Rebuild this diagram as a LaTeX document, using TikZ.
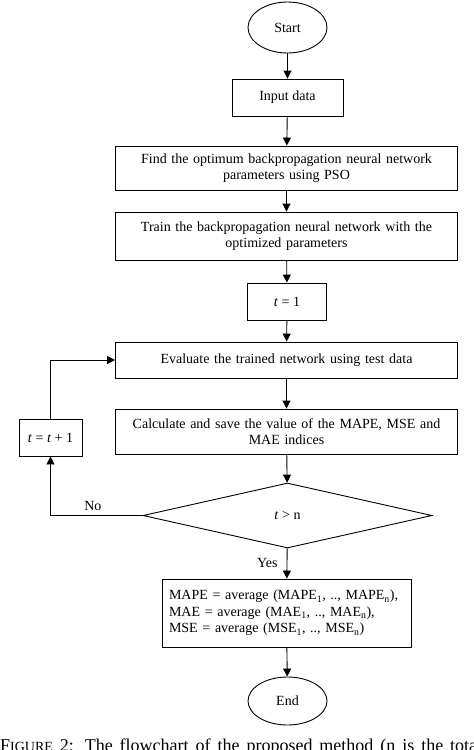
\documentclass[tikz,border=0pt]{standalone}
\usepackage{fontspec}
\setmainfont{Liberation Serif}
\usetikzlibrary{shapes.geometric,arrows.meta}
\begin{document}
\begin{tikzpicture}[x=1pt,y=-1pt,
  every node/.style={font=\fontsize{14}{16.5}\selectfont},
  box/.style={draw, line width=0.9pt, rectangle, inner sep=2pt, align=center},
  term/.style={draw, line width=0.9pt, ellipse, inner sep=0pt, minimum width=79pt},
  dec/.style={draw, line width=0.9pt, diamond, inner sep=0pt, minimum width=289pt, minimum height=65pt, aspect=4.45},
  arr/.style={line width=0.9pt, -{Triangle[length=8pt,width=8pt]}},
  lbl/.style={inner sep=1pt}
]
\useasboundingbox (0,0) rectangle (474,750);
\begin{scope}
\clip (0,0) rectangle (474,750);
\node[term, minimum height=51pt] (start) at (287.5,27.5) {Start};
\node[box, minimum width=111pt, minimum height=37pt] (input) at (287.5,97.5) {Input data};
\node[box, minimum width=342pt, minimum height=44pt, text width=330pt] (find) at (286.5,168) {Find the optimum backpropagation neural network\\parameters using PSO};
\node[box, minimum width=342pt, minimum height=48pt, text width=330pt] (train) at (286.5,236) {Train the backpropagation neural network with the\\optimized parameters};
\node[box, minimum width=79pt, minimum height=37pt] (t1) at (287,301.5) {\textit{t} = 1};
\node[box, minimum width=342pt, minimum height=36pt, text width=330pt] (eval) at (286.5,360) {Evaluate the trained network using test data};
\node[box, minimum width=342pt, minimum height=45pt, text width=330pt] (calc) at (286.5,431.5) {Calculate and save the value of the MAPE, MSE and\\MAE indices};
\node[dec] (cond) at (287.5,515.5) {\textit{t} \textgreater{} n};
\node[box, minimum width=63pt, minimum height=37pt] (inc) at (50.5,437.5) {\textit{t} = \textit{t} + 1};
\node[box, minimum width=249pt, minimum height=68pt, align=left, text width=235pt] (res) at (286.5,613) {MAPE = average (MAPE\textsubscript{1}, .., MAPE\textsubscript{n}),\\MAE = average (MAE\textsubscript{1}, .., MAE\textsubscript{n}),\\MSE = average (MSE\textsubscript{1}, .., MSE\textsubscript{n})};
\node[term, minimum height=48pt] (end) at (287.5,701) {End};

\draw[arr] (start) -- (input);
\draw[arr] (input) -- (find);
\draw[arr] (find) -- (train);
\draw[arr] (train) -- (t1);
\draw[arr] (t1) -- (eval);
\draw[arr] (eval) -- (calc);
\draw[arr] (calc) -- (cond);
\draw[arr] (cond) -- node[lbl, left, pos=0.5, xshift=-8pt] {Yes} (res);
\draw[arr] (res) -- (end);
\draw[arr] (cond.west) -| node[lbl, pos=0.27, above=3pt] {No} (inc.south);
\draw[arr] (inc.north) |- (eval.west);

\node[anchor=base west, inner sep=0pt, font=\fontsize{18}{20}\selectfont] (cap) at (0,751) {\makebox[482pt][s]{F{\fontsize{14}{16}\selectfont IGURE} 2: The flowchart of the proposed method (n is the total}};
\end{scope}
\end{tikzpicture}
\end{document}
